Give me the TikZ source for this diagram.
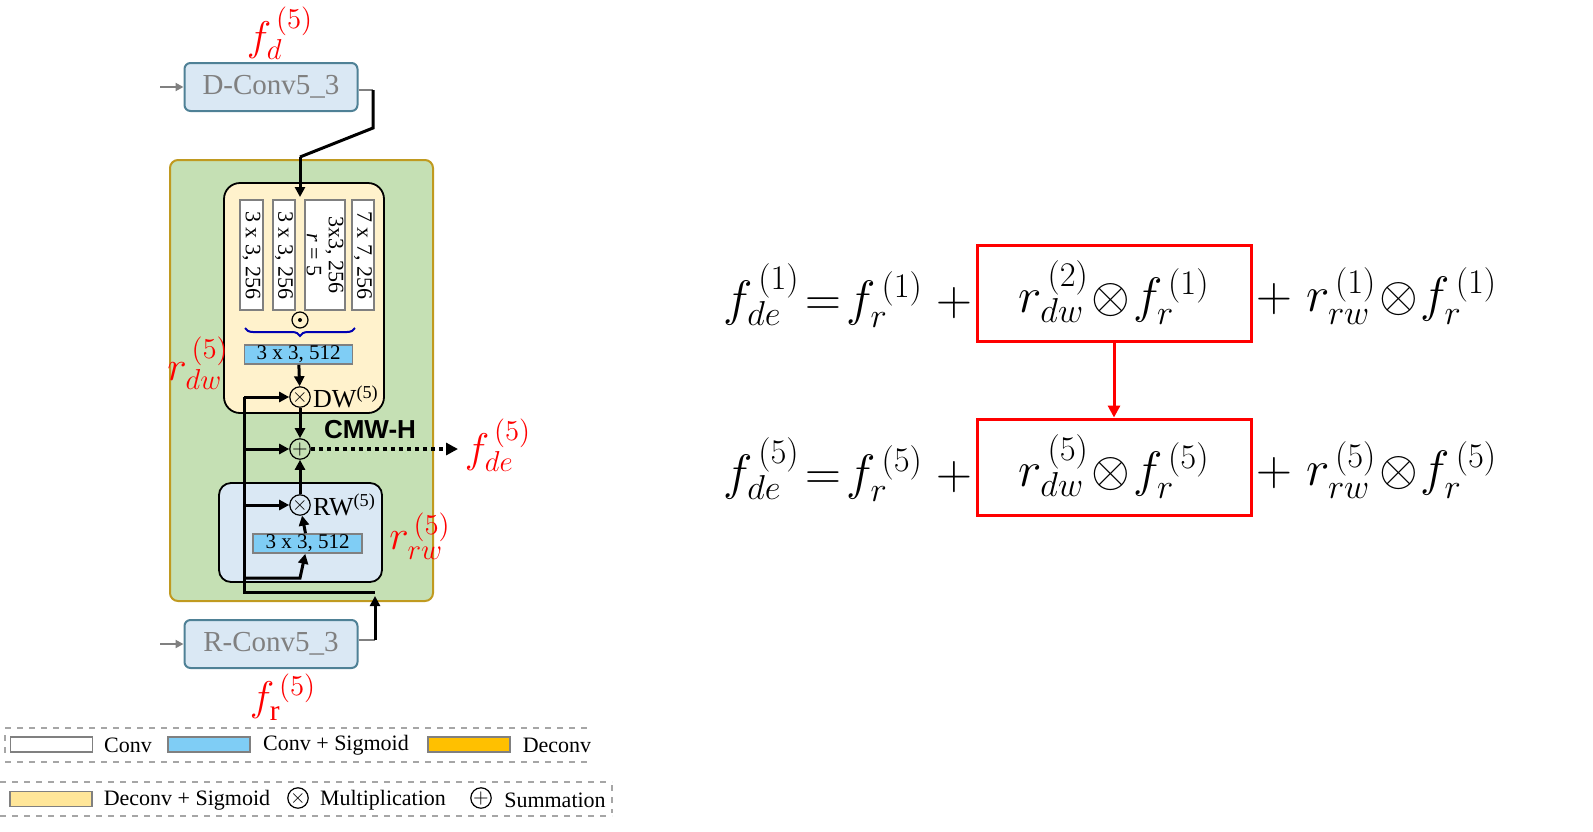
\documentclass[tikz,border=0pt]{standalone}
\usepackage{fontspec}
\setmainfont{Liberation Serif}
\newfontfamily\cmwfont{Liberation Sans}
\usetikzlibrary{arrows.meta,decorations.pathreplacing}
\definecolor{lblue}{HTML}{DAE8F4}
\definecolor{tealb}{HTML}{4F8196}
\definecolor{sky}{HTML}{7FCDF5}
\definecolor{gfill}{HTML}{C5E0B4}
\definecolor{gold}{HTML}{C09A20}
\definecolor{cream}{HTML}{FFF2CC}
\definecolor{orng}{HTML}{FFC000}
\definecolor{lyel}{HTML}{FFE699}
\definecolor{redc}{HTML}{FF0000}
\tikzset{
 convbox/.style={draw=tealb,fill=lblue,rounded corners=3pt,line width=1pt,minimum width=86.5pt,minimum height=24pt,text=gray,font=\fontsize{14.5}{16}\selectfont},
 vbox/.style={draw=gray,fill=white,line width=0.8pt,inner sep=0pt},
 sbox/.style={draw=gray,fill=sky,line width=0.8pt,font=\fontsize{10.5}{12}\selectfont,inner sep=0pt},
 opc/.style={circle,draw,line width=0.6pt,minimum size=8pt,inner sep=0pt},
 ar/.style={-{Triangle[length=5pt,width=5pt]},line width=1.5pt},
 lbl/.style={text=redc,font=\fontsize{21}{23}\selectfont},
 eq/.style={font=\fontsize{25}{28}\selectfont,inner sep=0pt},
 leg/.style={draw=gray,line width=0.8pt,minimum width=41pt,minimum height=7.5pt,inner sep=0pt},
 legt/.style={font=\fontsize{11}{13}\selectfont},
 dsh/.style={dashed,draw=gray!70,line width=0.6pt}
}
\begin{document}
\begin{tikzpicture}[x=0.5pt,y=-0.5pt]
\useasboundingbox (0,0) rectangle (1593,831);
% top
\node[convbox] (dconv) at (271,87) {D-Conv5\_3};
\coordinate (din) at (160,87);
\draw[-{Triangle[length=4pt,width=4pt]},gray,line width=1.4pt] (din) -- (dconv.west);
\node[lbl] (fd) at (280,33) {$f_{d}^{\,(5)}$};
% green
\node[draw=gold,fill=gfill,line width=1pt,rounded corners=4pt,minimum width=131.5pt,minimum height=220.5pt] (green) at (301.5,380.5) {};
\node[draw,fill=cream,line width=0.9pt,rounded corners=8pt,minimum width=80pt,minimum height=115pt] (yel) at (304,298) {};
\node[draw,fill=lblue,line width=0.9pt,rounded corners=6pt,minimum width=81.5pt,minimum height=49.5pt] (blu) at (300.5,532.5) {};
% route from dconv
\coordinate (c1) at (373,90);
\coordinate (c2) at (373,128);
\coordinate (c3) at (300,157);
\draw[gray,line width=1.4pt] (dconv.east |- c1) -- (c1);
\draw[line width=1.5pt] (c1) -- (c2) -- (c3);
\draw[ar] (c3) -- (300,197);
% vertical boxes
\node[vbox,minimum width=11.5pt,minimum height=55pt] (v1) at (251.5,255) {};
\node[rotate=-90,font=\fontsize{11}{12}\selectfont] at (v1) {3 x 3, 256};
\node[vbox,minimum width=11pt,minimum height=55pt] (v2) at (284,255) {};
\node[rotate=-90,font=\fontsize{11}{12}\selectfont] at (v2) {3 x 3, 256};
\node[vbox,minimum width=20pt,minimum height=55pt] (v3) at (325,255) {};
\node[rotate=-90,font=\fontsize{11}{11}\selectfont,align=center] at (v3) {3x3, 256\\\textit{r} = 5};
\node[vbox,minimum width=11pt,minimum height=55pt] (v4) at (363,255) {};
\node[rotate=-90,font=\fontsize{11}{12}\selectfont] at (v4) {7 x 7, 256};
\node[opc,minimum size=8pt] (od) at (300,320) {};
\node[circle,fill,inner sep=0pt,minimum size=2pt] at (od) {};
\draw[decorate,decoration={brace,mirror,amplitude=4pt},draw=blue!70!black,line width=1pt] (245,328) -- (355,328);
\node[sbox,minimum width=54pt,minimum height=9.5pt] (s1) at (298.5,354.5) {3 x 3, 512};
\node[opc] (m1) at (300,397) {$\times$};
\node[anchor=west,font=\fontsize{13}{14}\selectfont,inner sep=1pt] (dw) at (m1.east) {DW\textsuperscript{(5)}};
\node[opc] (p1) at (300,449) {$+$};
\node[font=\cmwfont\bfseries\fontsize{13}{14}\selectfont] (cmw) at (370,430) {CMW-H};
\node[opc] (m2) at (300,505) {$\times$};
\node[anchor=west,font=\fontsize{13}{14}\selectfont,inner sep=1pt] (rw) at (m2.east) {RW\textsuperscript{(5)}};
\node[sbox,minimum width=54.5pt,minimum height=9.5pt] (s2) at (307.5,543.5) {3 x 3, 512};
\draw[ar] (s1) -- (m1);
\draw[ar] (m1) -- (p1);
\draw[ar] (m2) -- (p1);
\draw[ar] (s2) -- (m2);
\coordinate (fde) at (458,449);
\draw[dotted,line width=2pt,-{Triangle[length=6pt,width=6pt]}] (p1) -- (fde);
% left bus
\coordinate (b0) at (244,592);
\coordinate (b1) at (244,397);
\coordinate (b2) at (375,592);
\draw[line width=1.5pt] (b1) -- (b0) -- (b2);
\draw[ar] (b1) -- (m1);
\draw[ar] (244,449) -- (p1);
\draw[ar] (244,505) -- (m2);
\draw[ar] (244,578) -- (300,578) -- (s2);
% bottom
\node[convbox] (rconv) at (271,644) {R-Conv5\_3};
\draw[-{Triangle[length=4pt,width=4pt]},gray,line width=1.4pt] (160,644) -- (rconv.west);
\draw[gray,line width=1.4pt] (rconv.east |- 0,640) -- (375,640);
\draw[-{Triangle[length=5pt,width=5pt]},line width=1.5pt] (375,640) -- (375,596);
% red labels
\node[lbl] (rdw) at (198,363) {$r_{dw}^{\,(5)}$};
\node[lbl] (fdel) at (498,445) {$f_{de}^{\,(5)}$};
\node[lbl] (rrw) at (420,536) {$r_{rw}^{\,(5)}$};
\node[lbl] (fr) at (283,697) {$f_{\mathrm{r}}^{\,(5)}$};
% legend
\draw[dsh] (5,728) -- (590,728);
\draw[dsh] (5,762) -- (590,762);
\draw[dsh] (5,735) -- (5,755);
\draw[dsh] (0,782) -- (612,782);
\draw[dsh] (0,816) -- (612,816);
\draw[dsh] (612,785) -- (612,813);
\node[leg,fill=white] (l1) at (51.5,744.5) {};
\node[legt] (t1) at (128,745) {Conv};
\node[leg,fill=sky] (l2) at (209,744.5) {};
\node[legt] (t2) at (336,745) {Conv + Sigmoid};
\node[leg,fill=orng] (l3) at (469,744.5) {};
\node[legt] (t3) at (557,745) {Deconv};
\node[leg,fill=lyel] (l4) at (51,799) {};
\node[legt] (t4) at (187,800) {Deconv + Sigmoid};
\node[opc,minimum size=9pt] (l5) at (298,798) {$\times$};
\node[legt] (t5) at (383,800) {Multiplication};
\node[opc,minimum size=9pt] (l6) at (481,798) {$+$};
\node[legt] (t6) at (555,800) {Summation};
% equations
\node[draw=redc,line width=1.5pt,minimum width=137pt,minimum height=48pt,eq] (bx1) at (1114,293) {$r_{dw}^{\,(2)}\!\otimes\! f_r^{\,(1)}$};
\node[draw=redc,line width=1.5pt,minimum width=137pt,minimum height=48pt,eq] (bx2) at (1114,467) {$r_{dw}^{\,(5)}\!\otimes\! f_r^{\,(5)}$};
\node[eq,anchor=east] (e1l) at (973,296) {$f_{de}^{\,(1)}\!=\!f_r^{\,(1)}\;+$};
\node[eq,anchor=west] (e1r) at (1256,296) {$+\;r_{rw}^{\,(1)}\!\otimes\! f_r^{\,(1)}$};
\node[eq,anchor=east] (e2l) at (973,470) {$f_{de}^{\,(5)}\!=\!f_r^{\,(5)}\;+$};
\node[eq,anchor=west] (e2r) at (1256,470) {$+\;r_{rw}^{\,(5)}\!\otimes\! f_r^{\,(5)}$};
\draw[draw=redc,line width=1.5pt,-{Triangle[length=6pt,width=6pt]},fill=redc] (bx1) -- (bx2);
\end{tikzpicture}
\end{document}
